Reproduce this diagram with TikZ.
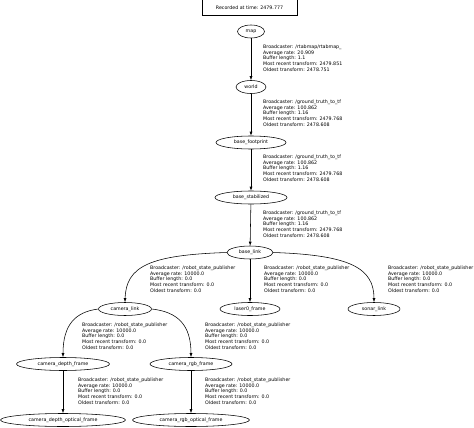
\documentclass[tikz,border=0pt]{standalone}
\usepackage{fontspec}
\setmainfont{DejaVu Sans}
\usetikzlibrary{shapes.geometric,arrows.meta}
\begin{document}
\begin{tikzpicture}[x=1pt,y=-1pt,
  frame/.style={draw, ellipse, minimum height=13pt, inner sep=0pt, line width=0.55pt, font=\fontsize{4.75}{5.8}\selectfont},
  info/.style={anchor=north west, inner sep=0pt, align=left, font=\fontsize{4.75}{5.8}\selectfont},
  conn/.style={line width=0.55pt, -{Latex[length=4pt,width=3pt]}}]
\useasboundingbox (0,0) rectangle (474,428);
\node[draw, line width=0.55pt, minimum width=95pt, minimum height=20pt, inner sep=0pt, font=\fontsize{4.75}{5.8}\selectfont, text depth=0pt] (rec) at (249.5,5) {\raisebox{-5pt}{Recorded at time: 2479.777}};
\node[frame, minimum width=27pt] (map) at (251,31.5) {map};
\node[frame, minimum width=30pt] (world) at (251,87) {world};
\node[frame, minimum width=70pt] (bf) at (251,142.5) {base\_footprint};
\node[frame, minimum width=72pt] (bs) at (251,197.5) {base\_stabilized};
\node[frame, minimum width=46pt] (bl) at (250,252.5) {base\_link};
\node[frame, minimum width=53pt] (cl) at (125,309) {camera\_link};
\node[frame, minimum width=60pt] (laser) at (250,309) {laser0\_frame};
\node[frame, minimum width=52pt] (sonar) at (374,309) {sonar\_link};
\node[frame, minimum width=93pt] (cdf) at (63,364) {camera\_depth\_frame};
\node[frame, minimum width=82pt] (crf) at (191,364) {camera\_rgb\_frame};
\node[frame, minimum width=125pt] (cdo) at (63,420) {camera\_depth\_optical\_frame};
\node[frame, minimum width=117pt] (cro) at (191,420) {camera\_rgb\_optical\_frame};

\draw[conn] (map) -- (world);
\draw[conn] (world) -- (bf);
\draw[conn] (bf) -- (bs);
\draw[conn] (bs) -- (bl);
\draw[conn] (bl.west) .. controls (150,255) and (126,266) .. (cl.north);
\draw[conn] (bl) -- (laser);
\draw[conn] (bl.east) .. controls (350,255) and (374,268) .. (sonar.north);
\draw[conn] (cl.west) .. controls (75,312) and (63,325) .. (cdf.north);
\draw[conn] (cl.east) .. controls (178,312) and (191,325) .. (crf.north);
\draw[conn] (cdf) -- (cdo);
\draw[conn] (crf) -- (cro);

\node[info] (l1) at (263,44.5) {Broadcaster: /rtabmap/rtabmap\_\\Average rate: 20.909\\Buffer length: 1.1\\Most recent transform: 2479.851\\Oldest transform: 2478.751};
\node[info] (l2) at (263,99.5) {Broadcaster: /ground\_truth\_to\_tf\\Average rate: 100.862\\Buffer length: 1.16\\Most recent transform: 2479.768\\Oldest transform: 2478.608};
\node[info] (l3) at (263,154.5) {Broadcaster: /ground\_truth\_to\_tf\\Average rate: 100.862\\Buffer length: 1.16\\Most recent transform: 2479.768\\Oldest transform: 2478.608};
\node[info] (l4) at (263,210.5) {Broadcaster: /ground\_truth\_to\_tf\\Average rate: 100.862\\Buffer length: 1.16\\Most recent transform: 2479.768\\Oldest transform: 2478.608};
\node[info] (l5) at (150,265.5) {Broadcaster: /robot\_state\_publisher\\Average rate: 10000.0\\Buffer length: 0.0\\Most recent transform: 0.0\\Oldest transform: 0.0};
\node[info] (l6) at (264,265.5) {Broadcaster: /robot\_state\_publisher\\Average rate: 10000.0\\Buffer length: 0.0\\Most recent transform: 0.0\\Oldest transform: 0.0};
\node[info] (l7) at (388,265.5) {Broadcaster: /robot\_state\_publisher\\Average rate: 10000.0\\Buffer length: 0.0\\Most recent transform: 0.0\\Oldest transform: 0.0};
\node[info] (l8) at (82,322.5) {Broadcaster: /robot\_state\_publisher\\Average rate: 10000.0\\Buffer length: 0.0\\Most recent transform: 0.0\\Oldest transform: 0.0};
\node[info] (l9) at (205,322.5) {Broadcaster: /robot\_state\_publisher\\Average rate: 10000.0\\Buffer length: 0.0\\Most recent transform: 0.0\\Oldest transform: 0.0};
\node[info] (l10) at (78,377.5) {Broadcaster: /robot\_state\_publisher\\Average rate: 10000.0\\Buffer length: 0.0\\Most recent transform: 0.0\\Oldest transform: 0.0};
\node[info] (l11) at (205,377.5) {Broadcaster: /robot\_state\_publisher\\Average rate: 10000.0\\Buffer length: 0.0\\Most recent transform: 0.0\\Oldest transform: 0.0};
\end{tikzpicture}
\end{document}
